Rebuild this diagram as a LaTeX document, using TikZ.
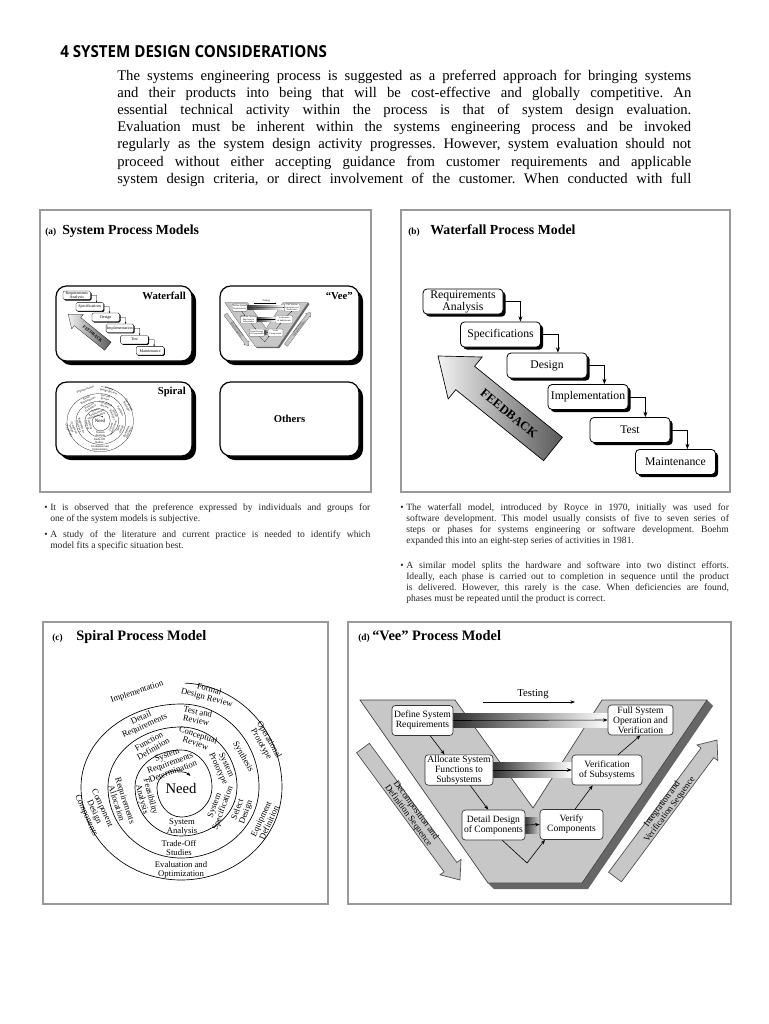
\documentclass[tikz,border=0pt]{standalone}
\usepackage{fontspec}
\usepackage{graphicx}
\setmainfont{Liberation Serif}
\newfontfamily\headfont{Open Sans}
\usetikzlibrary{arrows.meta,shadows}
\newcommand\lwf{1}
\newcommand\jl[2]{\makebox[#1][s]{#2}\\}

\tikzset{
  frame/.style={draw=black!40, line width=0.8pt},
  ttl/.style={font=\fontsize{10.4}{12}\selectfont\bfseries, inner sep=0, anchor=base west},
  ttlb/.style={font=\fontsize{10.8}{12}\selectfont\bfseries, inner sep=0, anchor=base west},
  tag/.style={font=\fontsize{7}{8}\selectfont\bfseries, inner sep=0, anchor=base west},
  txt/.style={inner sep=0, anchor=base west, text=black!85},
  modelbox/.style={draw=black, line width=0.9pt, rounded corners=8pt, fill=white,
    drop shadow={shadow xshift=3pt, shadow yshift=-3pt, fill=black, opacity=1}},
  modellabel/.style={font=\fontsize{8}{9}\selectfont\bfseries, inner sep=0},
  wfbox/.style={draw=black, line width=0.6pt*\lwf, rounded corners=3pt*\lwf, fill=white,
    minimum width=60pt, minimum height=18.75pt, inner sep=0.5pt, align=center,
    font=\fontsize{8.8}{9}\selectfont,
    drop shadow={shadow xshift=2pt*\lwf, shadow yshift=-2pt*\lwf, fill=black, opacity=1}},
  wfarrow/.style={draw=black, line width=0.5pt*\lwf, -{Stealth[length=4pt, width=3pt, scale=\lwf]}},
  vfill/.style={fill=black!22, draw=black!75, line width=0.5pt*\lwf},
  vshadow/.style={fill=black!60},
  vband/.style={fill=black!22, draw=black!70, line width=0.5pt*\lwf},
  vbox/.style={draw=black!80, line width=0.5pt*\lwf, rounded corners=2.5pt*\lwf, fill=white,
    minimum height=22.5pt, inner sep=0.5pt, align=center, font=\fontsize{7.2}{7.6}\selectfont},
  varrow/.style={draw=black, line width=0.45pt*\lwf, -{Stealth[length=3.5pt, width=2.6pt, scale=\lwf]}},
  vlab/.style={font=\fontsize{6.7}{7}\selectfont, align=center, inner sep=0},
  spl/.style={font=\fontsize{6.5}{6.6}\selectfont, align=center, inner sep=0},
  spline/.style={draw=black, line width=0.5pt*\lwf},
}

% ---------- waterfall model (origin = top-left of first box) ----------
\newcommand\waterfallfig{%
  \shade[draw=black, line width=0.5pt*\lwf, left color=black!5, right color=black!65]
    (139.4,148.3) -- (51.6,77.3) -- (59.2,68) -- (15,67) -- (25.2,110) -- (32.8,100.7) -- (120.6,171.7) -- cycle;
  \node[rotate=-39, inner sep=0] (fbtext) at (86,124.5) {\resizebox{52pt}{!}{\bfseries FEEDBACK}};
  \node[wfbox] (r1) at (40,12.5) {Requirements\\Analysis};
  \node[wfbox] (r2) at (77.5,45.5) {Specifications};
  \node[wfbox] (r3) at (124,76.5) {Design};
  \node[wfbox] (r4) at (165,108) {Implementation};
  \node[wfbox] (r5) at (207,141) {Test};
  \node[wfbox] (r6) at (252.5,173) {Maintenance};
  \draw[wfarrow] (r1.east) -- ++(17,0) coordinate (k1) -- (k1 |- r2.north);
  \draw[wfarrow] (r2.east) -- ++(17,0) coordinate (k2) -- (k2 |- r3.north);
  \draw[wfarrow] (r3.east) -- ++(17,0) coordinate (k3) -- (k3 |- r4.north);
  \draw[wfarrow] (r4.east) -- ++(17,0) coordinate (k4) -- (k4 |- r5.north);
  \draw[wfarrow] (r5.east) -- ++(17,0) coordinate (k5) -- (k5 |- r6.north);
}

% ---------- vee model (origin = (357,693) on the page) ----------
\newcommand\veefig{%
  \fill[vshadow] (350,7) -- (356,13) -- (231,196) -- (137,196) -- (131,190) -- (225,190) -- cycle;
  \path[vfill] (3,7) -- (98,7) -- (176,115) -- (245,7) -- (350,7) -- (225,190) -- (131,190) -- cycle;
  \path[vband] (12.4,50.3) -- (99.9,169.4) -- (104,166.4) -- (103,187) -- (83,181.8) -- (87.1,178.8) -- (-0.4,59.7) -- cycle;
  \path[vband] (264.4,188.8) -- (356.8,64.6) -- (360.8,67.6) -- (360,47) -- (340,52) -- (344,55) -- (251.6,179.2) -- cycle;
  \node[vlab, rotate=-53.7] (declab) at (55,120) {Decomposition and\\Definition Sequence};
  \node[vlab, rotate=53.3] (intlab) at (309,114) {Integration and\\Verification Sequence};
  \shade[left color=black!80, right color=white] (96,20) rectangle (251,34);
  \shade[left color=black!80, right color=white] (136,69) rectangle (215,84);
  \shade[left color=black!80, right color=black!15] (168,124) rectangle (183,140);
  \node[vbox, minimum width=45.75pt] (v1) at (65.5,27.5) {Define System\\Requirements};
  \node[vbox, minimum width=48.75pt] (v2) at (283.5,27) {Full System\\Operation and\\Verification};
  \node[vbox, minimum width=51pt] (v3) at (102,77) {Allocate System\\Functions to\\Subsystems};
  \node[vbox, minimum width=52.5pt] (v4) at (250,77) {Verification\\of Subsystems};
  \node[vbox, minimum width=47.25pt] (v5) at (136.5,132) {Detail Design\\of Components};
  \node[vbox, minimum width=47.25pt] (v6) at (214.5,131.5) {Verify\\Components};
  \draw[varrow] (v1.east) -- (v2.west);
  \draw[varrow] (v3.east) -- (v4.west);
  \draw[varrow] (v5.east) -- (v6.west);
  \draw[varrow] (v1.297) -- (v3.133);
  \draw[varrow] (v3.306) -- (v5.109);
  \coordinate (vbot) at (170,170);
  \draw[varrow] (v5.300) -- (vbot) -- (v6.210);
  \draw[varrow] (v6.77) -- (v4.227);
  \draw[varrow] (v4.54) -- (v2.270);
  \node[font=\fontsize{8}{9}\selectfont, inner sep=0] (testing) at (176,1) {Testing};
  \coordinate (ts) at (126,9);
  \coordinate (te) at (218,9);
  \draw[varrow] (ts) -- (te);
}

% ---------- spiral model (origin = centre of the spiral) ----------
\newcommand\spiralfig{%
  \draw[spline] (0,-17)
    arc[start angle=-90,  end angle=-180, x radius=24,  y radius=17]
    arc[start angle=-180, end angle=-270, x radius=24,  y radius=30]
    arc[start angle=-270, end angle=-360, x radius=31,  y radius=30]
    arc[start angle=0,    end angle=-90,  x radius=31,  y radius=37]
    arc[start angle=-90,  end angle=-180, x radius=46,  y radius=37]
    arc[start angle=-180, end angle=-270, x radius=46,  y radius=49]
    arc[start angle=-270, end angle=-360, x radius=56,  y radius=49]
    arc[start angle=0,    end angle=-90,  x radius=56,  y radius=60]
    arc[start angle=-90,  end angle=-180, x radius=73,  y radius=60]
    arc[start angle=-180, end angle=-270, x radius=73,  y radius=71]
    arc[start angle=-270, end angle=-360, x radius=78,  y radius=71]
    arc[start angle=0,    end angle=-90,  x radius=78,  y radius=83]
    arc[start angle=-90,  end angle=-180, x radius=100, y radius=83]
    arc[start angle=-180, end angle=-270, x radius=100, y radius=93]
    arc[start angle=-270, end angle=-360, x radius=101, y radius=93]
    arc[start angle=0,    end angle=-88,  x radius=101, y radius=104];
  \draw[spline, -{Stealth[length=3pt, width=2.4pt, scale=\lwf]}] (-3,-15) arc[start angle=-100, delta angle=55, radius=14];
  \node[spl, rotate=18] (s1) at (-44,-95) {Implementation};
  \node[spl, rotate=-15] (s2) at (27,-93) {Formal\\Design Review};
  \node[spl, rotate=24] (s3) at (-38,-65) {Detail\\Requirements};
  \node[spl, rotate=-12] (s4) at (16,-71) {Test and\\Review};
  \node[spl, rotate=30] (s5) at (-30,-42) {Function\\Definition};
  \node[spl, rotate=-18] (s6) at (16,-48) {Conceptual\\Review};
  \node[spl, rotate=20] (s7) at (-11,-24) {System\\Requirements\\Determination};
  \node[font=\fontsize{11}{12}\selectfont, inner sep=0] (need) at (0,1) {Need};
  \node[spl, rotate=-75] (s8) at (-35,11) {Feasibility\\Analysis};
  \node[spl, rotate=-72] (s9) at (-60,15) {Requirements\\Allocation};
  \node[spl, rotate=-65] (s10) at (-87,25) {Component\\Design\\Components};
  \node[spl] (s11) at (1,40) {System\\Analysis};
  \node[spl] (s12) at (-2,61) {Trade-Off\\Studies};
  \node[spl] (s13) at (0,83) {Evaluation and\\Optimization};
  \node[spl, rotate=70] (s14) at (38,20) {System\\Specification};
  \node[spl, rotate=-65] (s15) at (41,-20) {System\\Prototype};
  \node[spl, rotate=-60] (s16) at (62,-30) {Synthesis};
  \node[spl, rotate=-60] (s17) at (84,-45) {Operational\\Prototype};
  \node[spl, rotate=70] (s18) at (61,24) {Select\\Design};
  \node[spl, rotate=65] (s19) at (84,34) {Equipment\\Definition};
}

\begin{document}
\frenchspacing
\begin{tikzpicture}[x=0.75pt,y=-0.75pt]
\useasboundingbox (0,0) rectangle (768,1024);
\fill[white] (0,0) rectangle (768,1024);

% heading and paragraph
\node[anchor=west, inner sep=0] (head) at (60,52) {\resizebox{200pt}{9pt}{\headfont\bfseries 4 SYSTEM DESIGN CONSIDERATIONS}};
\node[anchor=base west, inner sep=0] (para) at (117,80) {\parbox[t]{430.5pt}{\fontsize{11}{12.9}\selectfont
\jl{430.5pt}{The systems engineering process is suggested as a preferred approach for bringing systems}%
\jl{430.5pt}{and their products into being that will be cost-effective and globally competitive. An}%
\jl{430.5pt}{essential technical activity within the process is that of system design evaluation.}%
\jl{430.5pt}{Evaluation must be inherent within the systems engineering process and be invoked}%
\jl{430.5pt}{regularly as the system design activity progresses. However, system evaluation should not}%
\jl{430.5pt}{proceed without either accepting guidance from customer requirements and applicable}%
\makebox[430.5pt][s]{system design criteria, or direct involvement of the customer. When conducted with full}}};

% panel frames
\draw[frame] (40,210) rectangle (371,492);
\draw[frame] (401,210) rectangle (730,492);
\draw[frame] (43,622) rectangle (328,904);
\draw[frame] (348,622) rectangle (731,904);

% ---------------- panel (a) ----------------
\node[tag] (taga) at (45,234.5) {(a)};
\node[ttl] (ttla) at (62,234.5) {System Process Models};
\node[modelbox, minimum width=102pt, minimum height=56.25pt] (mwf) at (124,323.5) {};
\node[modelbox, minimum width=104.25pt, minimum height=56.25pt] (mvee) at (289.5,323.5) {};
\node[modelbox, minimum width=102pt, minimum height=55.5pt] (mspi) at (124,419) {};
\node[modelbox, minimum width=104.25pt, minimum height=55.5pt, font=\fontsize{8}{9}\selectfont\bfseries] (moth) at (289.5,419) {Others};
\node[modellabel, anchor=east] (lwf) at (186,296) {Waterfall};
\node[modellabel, anchor=east] (lvee) at (353,296) {``Vee''};
\node[modellabel, anchor=east] (lspi) at (186,392) {Spiral};
\begin{scope}[shift={(63,291)}, scale=0.345, transform shape, name prefix=ma-]
  \renewcommand\lwf{0.345}\waterfallfig
\end{scope}
\begin{scope}[shift={(224,301)}, scale=0.24, transform shape, name prefix=mb-]
  \renewcommand\lwf{0.24}\veefig
\end{scope}
\begin{scope}[shift={(100,421)}, scale=0.33, transform shape, name prefix=mc-]
  \renewcommand\lwf{0.33}\spiralfig
\end{scope}

\node[txt] (ab1) at (44,510.5) {\fontsize{7.2}{8.25}\selectfont\textbullet};
\node[txt] (at1) at (50,510.5) {\parbox[t]{240pt}{\fontsize{7.2}{8.25}\selectfont
\jl{240pt}{It is observed that the preference expressed by individuals and groups for}%
one of the system models is subjective.}};
\node[txt] (ab2) at (44,537) {\fontsize{7.2}{8.25}\selectfont\textbullet};
\node[txt] (at2) at (50,537) {\parbox[t]{240pt}{\fontsize{7.2}{8.25}\selectfont
\jl{240pt}{A study of the literature and current practice is needed to identify which}%
model fits a specific situation best.}};

% ---------------- panel (b) ----------------
\node[tag] (tagb) at (408,234.5) {(b)};
\node[ttl] (ttlb) at (430,234.5) {Waterfall Process Model};
\begin{scope}[shift={(423,289)}]
  \waterfallfig
\end{scope}

\node[txt] (bb1) at (400,510.5) {\fontsize{7.2}{8.25}\selectfont\textbullet};
\node[txt] (bt1) at (406,510.5) {\parbox[t]{242pt}{\fontsize{7.2}{8.25}\selectfont
\jl{242pt}{The waterfall model, introduced by Royce in 1970, initially was used for}%
\jl{242pt}{software development. This model usually consists of five to seven series of}%
\jl{242pt}{steps or phases for systems engineering or software development. Boehm}%
expanded this into an eight-step series of activities in 1981.}};
\node[txt] (bb2) at (400,568) {\fontsize{7.2}{8.25}\selectfont\textbullet};
\node[txt] (bt2) at (406,568) {\parbox[t]{242pt}{\fontsize{7.2}{8.25}\selectfont
\jl{242pt}{A similar model splits the hardware and software into two distinct efforts.}%
\jl{242pt}{Ideally, each phase is carried out to completion in sequence until the product}%
\jl{242pt}{is delivered. However, this rarely is the case. When deficiencies are found,}%
phases must be repeated until the product is correct.}};

% ---------------- panel (c) ----------------
\node[tag] (tagc) at (52,640.5) {(c)};
\node[ttlb] (ttlc) at (76,640.5) {Spiral Process Model};
\begin{scope}[shift={(181,787)}]
  \spiralfig
\end{scope}

% ---------------- panel (d) ----------------
\node[tag] (tagd) at (358,640.5) {(d)};
\node[ttlb] (ttld) at (372,640.5) {``Vee'' Process Model};
\begin{scope}[shift={(357,693)}]
  \veefig
\end{scope}
\end{tikzpicture}
\end{document}
